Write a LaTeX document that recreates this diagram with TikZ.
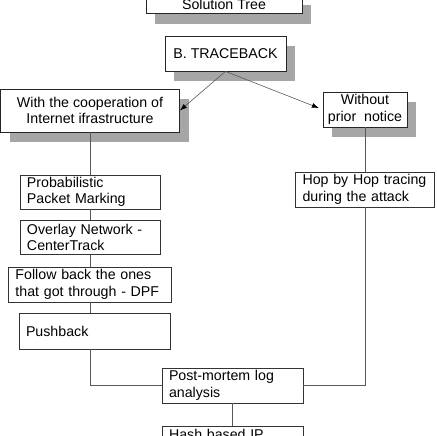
\documentclass[tikz,border=0pt]{standalone}
\usepackage{fontspec}
\setmainfont{Liberation Sans}
\usetikzlibrary{arrows.meta, positioning, shadows}

\begin{document}
\begin{tikzpicture}[x=1pt, y=-1pt, font=\fontsize{14.2}{16.5}\selectfont,
    box/.style={draw=black!80, line width=0.6pt, fill=white, align=left, inner xsep=7pt, inner ysep=2pt},
    sbox/.style={draw=black!85, line width=0.8pt, fill=white, align=center, inner sep=2pt,
        drop shadow={shadow xshift=9pt, shadow yshift=-10pt, opacity=1, fill=black!35}},
    link/.style={draw=black!65, line width=0.6pt},
    arr/.style={link, -{Latex[length=7pt, width=5pt, black]}}]
        % Page frame
        \useasboundingbox (0,0) rectangle (436,436);
        \clip (0,0) rectangle (436,436);
        
        % Top of the tree (cut by the page)
        \node[sbox, minimum width=156pt, inner ysep=4pt, anchor=south] (sol) at (224,14) {Solution Tree};
        \node[sbox, minimum width=121pt, minimum height=35pt] (tb) at (225.5,53.5) {B. TRACEBACK};
        
        % The two branches
        \node[sbox, minimum width=179pt, minimum height=43pt] (coop) at (90,110.5) {With the cooperation of\\Internet ifrastructure};
        \node[sbox, minimum width=84pt, minimum height=35pt] (woprior) at (365,109.5) {Without\\prior\ \ notice};
        \draw[arr] (tb.south) -- (coop.east);
        \draw[arr, shorten >=4pt] (tb.south) -- (woprior.west);
        
        % Left column of methods
        \node[box, text width=126pt, minimum height=34pt] (ppm) at (90,192) {Probabilistic\\Packet Marking};
        \node[box, text width=126pt, minimum height=34pt] (overlay) at (90,237.5) {Overlay Network -\\CenterTrack};
        \node[box, text width=149pt, minimum height=35pt] (follow) at (90,284.5) {Follow back the ones\\that got through - DPF};
        \node[box, text width=137pt, minimum height=36pt] (push) at (94.5,331) {Pushback};
        
        % Right column
        \node[box, text width=125pt, minimum height=35pt] (hop) at (365,189.5) {Hop by Hop tracing\\during the attack};
        
        % Bottom boxes
        \node[box, text width=127pt, minimum height=35pt] (pm) at (232.5,385.5) {Post-mortem log\\analysis};
        \node[box, text width=127pt, inner ysep=3pt, anchor=north] (hash) at (232.5,426) {Hash based IP};
        
        % Connectors
        \draw[link] (coop.south) -- (ppm.north);
        \draw[link] (ppm.south) -- (overlay.north);
        \draw[link] (overlay.south) -- (follow.north);
        \draw[link] (follow.south) -- (follow.south |- push.north);
        \draw[link] (push.south -| follow.south) |- (pm.west);
        \draw[link] (woprior.south) -- (hop.north);
        \draw[link] (hop.south) |- (pm.east);
        \draw[link] (pm.south) -- (hash.north);
    \end{tikzpicture}
\end{document}
